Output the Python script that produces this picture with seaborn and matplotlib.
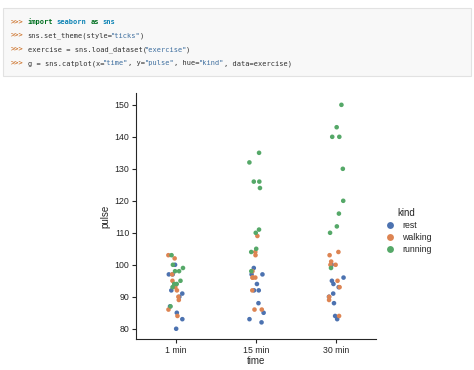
import numpy as np
import pandas as pd
import seaborn as sns
import matplotlib.pyplot as plt
from matplotlib.patches import Rectangle

# pulse values, 10 subjects per kind
times = ["1 min", "15 min", "30 min"]
kinds = ["rest", "walking", "running"]

rest_1 = [85, 90, 97, 80, 91, 83, 87, 92, 97, 100]
rest_15 = [85, 92, 97, 82, 92, 83, 88, 94, 99, 97]
rest_30 = [88, 93, 94, 83, 91, 84, 90, 95, 96, 100]

walking_1 = [86, 93, 90, 95, 89, 84, 103, 92, 97, 102]
walking_15 = [86, 103, 92, 96, 96, 86, 109, 96, 98, 104]
walking_30 = [84, 104, 93, 100, 95, 89, 90, 101, 100, 103]

running_1 = [93, 98, 98, 87, 94, 95, 100, 103, 94, 99]
running_15 = [98, 104, 105, 132, 110, 126, 126, 124, 135, 111]
running_30 = [110, 112, 99, 120, 116, 143, 140, 140, 130, 150]

code_lines = [
    [("import", "#007020", "bold"), (" ", "#333333", "normal"), ("seaborn", "#0e84b5", "bold"),
     (" ", "#333333", "normal"), ("as", "#007020", "bold"), (" ", "#333333", "normal"),
     ("sns", "#0e84b5", "bold")],
    [("sns.set_theme(style=", "#333333", "normal"), ('"ticks"', "#4070a0", "normal"),
     (")", "#333333", "normal")],
    [("exercise = sns.load_dataset(", "#333333", "normal"), ('"exercise"', "#4070a0", "normal"),
     (")", "#333333", "normal")],
    [("g = sns.catplot(x=", "#333333", "normal"), ('"time"', "#4070a0", "normal"),
     (", y=", "#333333", "normal"), ('"pulse"', "#4070a0", "normal"),
     (", hue=", "#333333", "normal"), ('"kind"', "#4070a0", "normal"),
     (", data=exercise)", "#333333", "normal")],
]

#%%
groups = {
    ("rest", "1 min"): rest_1, ("rest", "15 min"): rest_15, ("rest", "30 min"): rest_30,
    ("walking", "1 min"): walking_1, ("walking", "15 min"): walking_15, ("walking", "30 min"): walking_30,
    ("running", "1 min"): running_1, ("running", "15 min"): running_15, ("running", "30 min"): running_30,
}
rows = []
for (k, t), vals in groups.items():
    for v in vals:
        rows.append({"kind": k, "time": t, "pulse": v})
exercise = pd.DataFrame(rows)

#%%
sns.set_theme(style="ticks")
plt.rcParams["font.family"] = ["Liberation Sans", "DejaVu Sans"]

W, H = 474, 370
fig = plt.figure(figsize=(W / 100, H / 100), dpi=100)

# code box at the top
fig.patches.append(Rectangle((3 / W, 1 - 76 / H), 468 / W, 68 / H, transform=fig.transFigure,
                             facecolor="#f8f8f8", edgecolor="#e2e2e2", linewidth=0.8))
char_w = 4.17 / W
for i, toks in enumerate(code_lines):
    y = 1 - (22 + i * 13.8) / H
    fig.text(11 / W, y, ">>>", color="#c65d09", fontsize=5, family="DejaVu Sans Mono", va="center")
    col = 4
    for txt, c, w in toks:
        fig.text(11 / W + col * char_w, y, txt, color=c, fontsize=5, fontweight=w,
                 family="DejaVu Sans Mono", va="center")
        col += len(txt)

ax = fig.add_axes([136 / W, 1 - 339 / H, 240 / W, 246 / H])
np.random.seed(3)
sns.stripplot(data=exercise, x="time", y="pulse", hue="kind", order=times, hue_order=kinds,
              size=3.3, linewidth=0, ax=ax)
sns.despine(ax=ax)
ax.set_xlim(-0.5, 2.5)
ax.set_ylim(76.8, 153.7)
ax.set_yticks(range(80, 151, 10))
ax.tick_params(labelsize=6.3, length=3, width=0.8, pad=2)
ax.set_xlabel("time", fontsize=7, labelpad=1)
ax.set_ylabel("pulse", fontsize=7, labelpad=3)
for s in ax.spines.values():
    s.set_linewidth(0.8)

sns.move_legend(ax, "center left", bbox_to_anchor=(0.99, 0.44), frameon=False,
                fontsize=6.3, title_fontsize=7, markerscale=1.5, handletextpad=0.4,
                labelspacing=0.35)

fig.savefig("out.png", dpi=100)
